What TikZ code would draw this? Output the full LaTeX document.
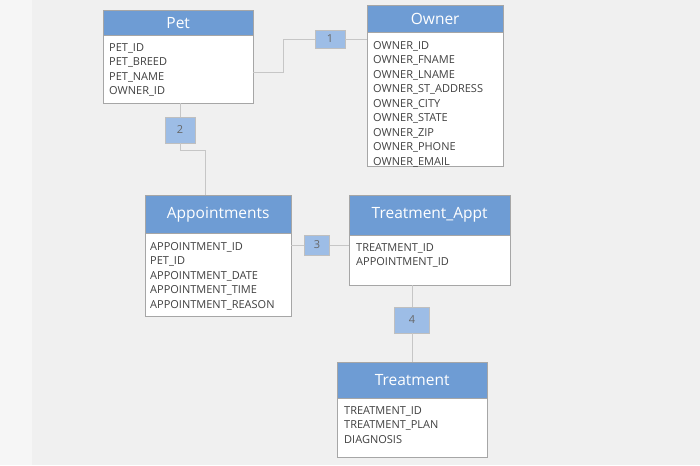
\documentclass[tikz,border=0pt]{standalone}
\usepackage{fontspec}
\setmainfont{Open Sans}
\begin{document}
\begin{tikzpicture}[x=1pt,y=-1pt,
 hdr/.style={draw=gray!70,fill=hblue,text=white,font=\fontsize{15.5}{15.5}\selectfont,anchor=north west,inner sep=0pt},
 bdy/.style={draw=gray!70,fill=white,anchor=north west,inner sep=0pt},
 txt/.style={anchor=north west,align=left,text=black!75,font=\fontsize{11}{14.6}\selectfont,inner sep=0pt},
 lab/.style={draw=gray!50,fill=lblue,text=gray!80!black,font=\fontsize{11}{11}\selectfont,inner sep=0pt},
 con/.style={draw=gray!45,line width=0.8pt}]
\definecolor{hblue}{HTML}{6E9CD4}
\definecolor{lblue}{HTML}{9DBDE6}
\fill[gray!12] (0,0) rectangle (700,465);
\fill[gray!7] (0,0) rectangle (32,465);
\useasboundingbox (0,0) rectangle (700,465);
% Pet
\node[hdr,minimum width=150pt,minimum height=25pt] (peth) at (103,10) {Pet};
\node[bdy,minimum width=150pt,minimum height=68pt] (petb) at (103,35) {};
\node[txt] (pett) at (109,43) {PET\_ID\\PET\_BREED\\PET\_NAME\\OWNER\_ID};
% Owner
\node[hdr,minimum width=136pt,minimum height=27pt] (ownh) at (367,5) {Owner};
\node[bdy,minimum width=136pt,minimum height=134pt] (ownb) at (367,32) {};
\node[txt,font=\fontsize{11}{14.5}\selectfont] (ownt) at (373,41) {OWNER\_ID\\OWNER\_FNAME\\OWNER\_LNAME\\OWNER\_ST\_ADDRESS\\OWNER\_CITY\\OWNER\_STATE\\OWNER\_ZIP\\OWNER\_PHONE\\OWNER\_EMAIL};
% Appointments
\node[hdr,minimum width=146pt,minimum height=38pt] (apph) at (145,195) {Appointments};
\node[bdy,minimum width=146pt,minimum height=83pt] (appb) at (145,233) {};
\node[txt] (appt) at (150,242) {APPOINTMENT\_ID\\PET\_ID\\APPOINTMENT\_DATE\\APPOINTMENT\_TIME\\APPOINTMENT\_REASON};
% Treatment_Appt
\node[hdr,minimum width=161pt,minimum height=40pt] (tah) at (349,195) {Treatment\_Appt};
\node[bdy,minimum width=161pt,minimum height=50pt] (tab) at (349,235) {};
\node[txt] (tat) at (356,243) {TREATMENT\_ID\\APPOINTMENT\_ID};
% Treatment
\node[hdr,minimum width=150pt,minimum height=36pt] (trh) at (337,362) {Treatment};
\node[bdy,minimum width=150pt,minimum height=59pt] (trb) at (337,398) {};
\node[txt] (trt) at (344,406) {TREATMENT\_ID\\TREATMENT\_PLAN\\DIAGNOSIS};
% labels
\node[lab,minimum width=30pt,minimum height=18pt] (l1) at (330,39) {1};
\node[lab,minimum width=30pt,minimum height=26pt] (l2) at (180,130) {2};
\node[lab,minimum width=25pt,minimum height=20pt] (l3) at (317,245) {3};
\node[lab,minimum width=35pt,minimum height=26pt] (l4) at (412,320) {4};
% connectors
\coordinate (c1a) at (283,72);
\coordinate (c1b) at (283,39);
\draw[con] (petb.east |- c1a) -- (c1a) -- (c1b) -- (l1.west);
\draw[con] (l1.east) -- (ownh.west |- l1.east);
\draw[con] (petb.south -| l2.north) -- (l2.north);
\coordinate (c2a) at (180,150);
\coordinate (c2b) at (205,150);
\draw[con] (l2.south) -- (c2a) -- (c2b) -- (apph.north -| c2b);
\draw[con] (appb.east |- l3.west) -- (l3.west);
\draw[con] (l3.east) -- (tab.west |- l3.east);
\draw[con] (tab.south -| l4.north) -- (l4.north);
\draw[con] (l4.south) -- (trh.north -| l4.south);
\end{tikzpicture}
\end{document}
